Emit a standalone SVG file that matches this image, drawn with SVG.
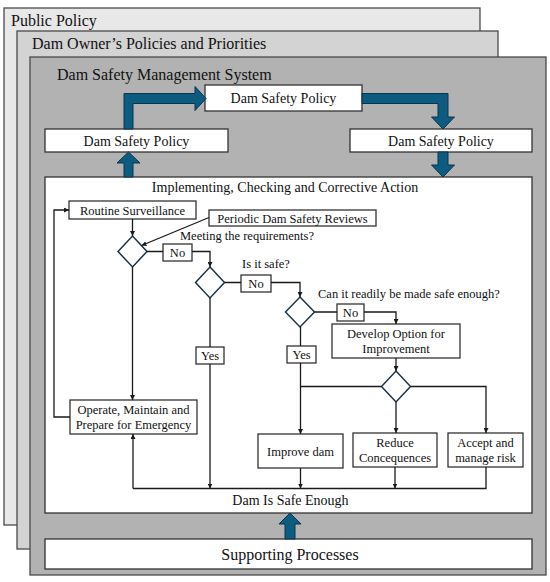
<svg xmlns="http://www.w3.org/2000/svg" width="550" height="582" viewBox="0 0 550 582">
<defs>
<style>
text{font-family:"Liberation Serif","Times New Roman",serif;fill:#111}
.t16{font-size:16px}
.t14{font-size:14px}
.t12{font-size:12.5px}
.tc{text-anchor:middle}
.panel{stroke:#4a4a4a;stroke-width:1.3}
.box{fill:#fff;stroke:#333;stroke-width:1.3}
.dia{fill:#fff;stroke:#1c3347;stroke-width:1.5}
.ln{fill:none;stroke:#1a1a1a;stroke-width:1.3}
.blue{fill:#0e5b80;stroke:#0a3550;stroke-width:1}
</style>
<marker id="ah" viewBox="0 0 10 10" refX="10" refY="5" markerWidth="5" markerHeight="5" orient="auto" markerUnits="userSpaceOnUse">
<path d="M0,0 L10,5 L0,10 z" fill="#1a1a1a"/>
</marker>
</defs>

<g id="public-policy">
<rect class="panel" x="4" y="8" width="476" height="517" fill="#e8e8e8"/>
<text class="t16" x="11" y="26">Public Policy</text>
</g>
<g id="owner-policies">
<rect class="panel" x="17" y="31" width="481" height="518" fill="#d3d3d3"/>
<text class="t16" x="32" y="49">Dam Owner’s Policies and Priorities</text>
</g>
<g id="dsms">
<rect class="panel" x="30" y="57" width="516" height="518" fill="#b2b2b2"/>
<text class="t16" x="57" y="80">Dam Safety Management System</text>
</g>

<g id="policy-top">
<rect class="box" x="205" y="85" width="157" height="26"/>
<text class="t14 tc" x="283.5" y="103">Dam Safety Policy</text>
</g>
<g id="policy-left">
<rect class="box" x="45" y="129" width="183" height="23"/>
<text class="t14 tc" x="136.5" y="146">Dam Safety Policy</text>
</g>
<g id="policy-right">
<rect class="box" x="350" y="129" width="182" height="23"/>
<text class="t14 tc" x="441" y="146">Dam Safety Policy</text>
</g>

<g id="implementing">
<rect class="box" x="45" y="177" width="487" height="336" stroke="#3a3a3a" stroke-width="1.5"/>
<text class="t14 tc" x="285" y="192">Implementing, Checking and Corrective Action</text>
</g>
<g id="supporting">
<rect class="box" x="45" y="539" width="487" height="30" stroke="#3a3a3a" stroke-width="1.5"/>
<text class="t16 tc" x="290" y="560">Supporting Processes</text>
</g>

<g id="big-arrows">
<polygon class="blue" points="124,177 124,163 117,163 128.5,152 140,163 133,163 133,177"/>
<polygon class="blue" points="124,129 124,93.5 195,93.5 195,86.5 206,98.5 195,110.5 195,103.5 133,103.5 133,129"/>
<polygon class="blue" points="362,93.5 448,93.5 448,117 454.5,117 443,129 431.5,117 438,117 438,103.5 362,103.5"/>
<polygon class="blue" points="438,152 438,165 431.5,165 443,177 454.5,165 448,165 448,152"/>
<polygon class="blue" points="285,539 285,524 279,524 290,513 301,524 295,524 295,539"/>
</g>

<g id="routine">
<rect class="box" x="69" y="201" width="127" height="18"/>
<text class="t12 tc" x="132.5" y="214.5">Routine Surveillance</text>
</g>
<g id="periodic">
<rect class="box" x="209" y="210" width="167" height="16"/>
<text class="t12 tc" x="292.5" y="222.5">Periodic Dam Safety Reviews</text>
</g>
<g id="decision-1">
<polygon class="dia" points="132.5,236 147,251.5 132.5,267 118,251.5"/>
<text class="t12" x="180" y="240">Meeting the requirements?</text>
</g>
<g id="no-1">
<rect class="box" x="163" y="244" width="29" height="17"/>
<text class="t12 tc" x="177.5" y="257">No</text>
</g>
<g id="decision-2">
<polygon class="dia" points="210,267 224.5,282.5 210,298 195.5,282.5"/>
<text class="t12" x="242" y="268">Is it safe?</text>
</g>
<g id="no-2">
<rect class="box" x="241" y="275" width="30" height="17"/>
<text class="t12 tc" x="256" y="288">No</text>
</g>
<g id="decision-3">
<polygon class="dia" points="300,297 314.5,312 300,327 285.5,312"/>
<text class="t12" x="318" y="298">Can it readily be made safe enough?</text>
</g>
<g id="no-3">
<rect class="box" x="337" y="304" width="27" height="17"/>
<text class="t12 tc" x="350.5" y="317">No</text>
</g>
<g id="develop">
<rect class="box" x="332" y="324" width="128" height="34"/>
<text class="t12 tc" x="396" y="338">Develop Option for</text>
<text class="t12 tc" x="396" y="353">Improvement</text>
</g>
<g id="yes-2">
<rect class="box" x="196" y="347" width="28" height="17"/>
<text class="t12 tc" x="210" y="360">Yes</text>
</g>
<g id="yes-3">
<rect class="box" x="287" y="346" width="29" height="17"/>
<text class="t12 tc" x="301.5" y="359">Yes</text>
</g>
<g id="decision-4">
<polygon class="dia" points="396,371 410.5,386.5 396,402 381.5,386.5"/>
</g>
<g id="operate">
<rect class="box" x="70" y="400" width="127" height="34"/>
<text class="t12 tc" x="133.5" y="414">Operate, Maintain and</text>
<text class="t12 tc" x="133.5" y="428.5">Prepare for Emergency</text>
</g>
<g id="improve">
<rect class="box" x="258" y="434" width="85" height="34"/>
<text class="t12 tc" x="300.5" y="456">Improve dam</text>
</g>
<g id="reduce">
<rect class="box" x="353" y="433" width="84" height="34"/>
<text class="t12 tc" x="395" y="446.5">Reduce</text>
<text class="t12 tc" x="395" y="461.5">Concequences</text>
</g>
<g id="accept">
<rect class="box" x="448" y="433" width="75" height="34"/>
<text class="t12 tc" x="485.5" y="446.5">Accept and</text>
<text class="t12 tc" x="485.5" y="461.5">manage risk</text>
</g>
<g id="safe-enough">
<text class="t14 tc" x="290.5" y="505">Dam Is Safe Enough</text>
</g>

<g id="connectors">
<path class="ln" d="M132.5,219 V236" marker-end="url(#ah)"/>
<path class="ln" d="M209,217.5 L141.5,245.5" marker-end="url(#ah)"/>
<path class="ln" d="M147,251.5 H163 M192,251.5 H210 V267" marker-end="url(#ah)"/>
<path class="ln" d="M224.5,282.5 H241 M271,282.5 H300 V297" marker-end="url(#ah)"/>
<path class="ln" d="M314.5,312 H337 M364,312 H396 V324" marker-end="url(#ah)"/>
<path class="ln" d="M396,358 V371" marker-end="url(#ah)"/>
<path class="ln" d="M132.5,267 V400" marker-end="url(#ah)"/>
<path class="ln" d="M70,417 H54 V210 H69" marker-end="url(#ah)"/>
<path class="ln" d="M210,298 V347 M210,364 V488.5" marker-end="url(#ah)"/>
<path class="ln" d="M300.5,327 V346 M300.5,363 V434" marker-end="url(#ah)"/>
<path class="ln" d="M300.5,386.5 H381.5"/>
<path class="ln" d="M410.5,386.5 H486 V433" marker-end="url(#ah)"/>
<path class="ln" d="M396,402 V433" marker-end="url(#ah)"/>
<path class="ln" d="M300.5,468 V488.5" marker-end="url(#ah)"/>
<path class="ln" d="M395,467 V488.5" marker-end="url(#ah)"/>
<path class="ln" d="M486,467 V488.5 H133"/>
<path class="ln" d="M133,488.5 V434" marker-end="url(#ah)"/>
</g>
</svg>
